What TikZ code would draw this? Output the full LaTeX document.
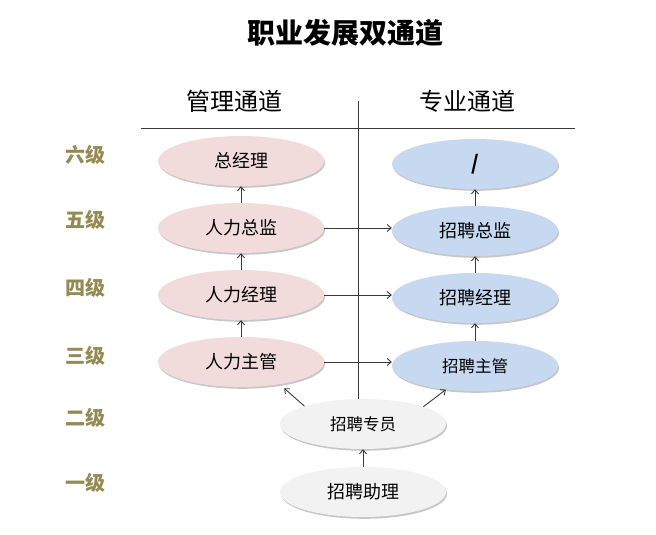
\documentclass[tikz,border=0pt]{standalone}
\usepackage{fontspec}
\setmainfont{Noto Sans CJK SC}
\newfontfamily\cjk{Noto Sans CJK SC}
\usetikzlibrary{shapes.geometric,shadows,arrows.meta}
\definecolor{pinkfill}{HTML}{F2DCDB}
\definecolor{bluefill}{HTML}{C6D9F1}
\definecolor{grayfill}{HTML}{F2F2F2}
\definecolor{levelcol}{HTML}{948A54}
\definecolor{linecol}{HTML}{3A3A3A}
\begin{document}
\begin{tikzpicture}[x=1pt,y=-1pt,
  post/.style={ellipse,minimum width=166pt,minimum height=50pt,inner sep=0pt,
    font=\cjk\fontsize{18}{18}\selectfont,
    drop shadow={shadow xshift=1pt,shadow yshift=-1.8pt,fill=black,opacity=0.22}},
  mgmt/.style={post,fill=pinkfill},
  prof/.style={post,fill=bluefill},
  base/.style={post,fill=grayfill},
  lvl/.style={font=\cjk\bfseries\fontsize{20}{20}\selectfont,text=levelcol},
  hdr/.style={font=\cjk\fontsize{24}{24}\selectfont},
  conn/.style={draw=linecol,line width=0.9pt,-{Straight Barb[length=4pt,width=7pt]}},
  rule/.style={draw=linecol,line width=1pt}]
\useasboundingbox (0,0) rectangle (656,535);
\fill[white] (0,0) rectangle (656,535);
% title
\node[font=\cjk\bfseries\fontsize{28}{28}\selectfont] (title) at (345,33) {职业发展双通道};
% headers
\node[hdr] (hm) at (234,101) {管理通道};
\node[hdr] (hp) at (467,101) {专业通道};
% rules
\coordinate (hl) at (141,128);
\coordinate (hr) at (575,128);
\coordinate (vt) at (358,101);
\coordinate (vb) at (358,399);
\draw[rule] (hl) -- (hr);
\draw[rule] (vt) -- (vb);
% level labels
\node[lvl] (l6) at (85,155) {六级};
\node[lvl] (l5) at (85,220) {五级};
\node[lvl] (l4) at (85,288) {四级};
\node[lvl] (l3) at (85,356) {三级};
\node[lvl] (l2) at (85,418) {二级};
\node[lvl] (l1) at (85,483) {一级};
% management
\node[mgmt] (m6) at (241,161) {总经理};
\node[mgmt] (m5) at (241,228) {人力总监};
\node[mgmt] (m4) at (241,295) {人力经理};
\node[mgmt] (m3) at (241,362) {人力主管};
% professional
\node[prof,font=\cjk\bfseries\fontsize{20}{20}\selectfont] (p6) at (475,164) {/};
\node[prof] (p5) at (475,231) {招聘总监};
\node[prof] (p4) at (475,298) {招聘经理};
\node[prof,font=\cjk\fontsize{16.5}{16.5}\selectfont] (p3) at (475,366) {招聘主管};
% base
\node[base,font=\cjk\fontsize{16.5}{16.5}\selectfont] (b2) at (363,424) {招聘专员};
\node[base] (b1) at (363,492) {招聘助理};
% vertical arrows
\draw[conn] (m5.north) -- (m6.south);
\draw[conn] (m4.north) -- (m5.south);
\draw[conn] (m3.north) -- (m4.south);
\draw[conn] (p5.north) -- (p6.south);
\draw[conn] (p4.north) -- (p5.south);
\draw[conn] (p3.north) -- (p4.south);
\draw[conn] (b1.north) -- (b2.south);
% horizontal arrows
\draw[conn] (m5.east) -- (m5.east -| p5.west);
\draw[conn] (m4.east) -- (m4.east -| p4.west);
\draw[conn] (m3.east) -- (m3.east -| p3.west);
% diagonal arrows
\draw[conn,shorten >=6pt] (b2.163) -- (m3.-30);
\draw[conn] (b2.16) -- (p3.-141);
\end{tikzpicture}
\end{document}
